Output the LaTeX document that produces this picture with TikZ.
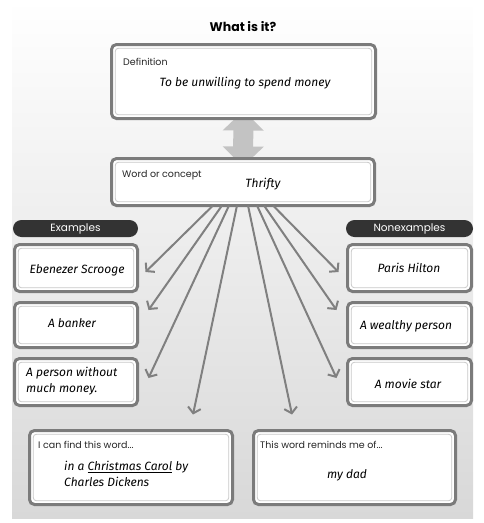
\documentclass[tikz,border=0pt]{standalone}
\usepackage{fontspec}
\setmainfont{Poppins}
\newfontfamily\hand{Fira Sans}
\usetikzlibrary{arrows.meta,calc}
\definecolor{bord}{HTML}{7B7B7B}
\definecolor{inn}{HTML}{C8C8C8}
\definecolor{arr}{HTML}{808080}
\definecolor{dbl}{HTML}{C3C3C3}
\definecolor{pill}{HTML}{333333}
\definecolor{bgbot}{HTML}{D8D8D8}
\pgfdeclarelayer{bg}
\pgfsetlayers{bg,main}
\tikzset{
  box/.style={draw=bord, line width=3pt, fill=white, rounded corners=5pt, outer sep=0pt, inner sep=0pt},
  innerframe/.style={draw=inn, line width=0.8pt, rounded corners=3pt},
  pillbox/.style={fill=pill, rounded corners=8.5pt, text=white, font=\fontsize{10.5}{11}\selectfont, inner sep=0pt, minimum height=17pt},
  lab/.style={anchor=west, font=\fontsize{9.5}{11}\selectfont, inner sep=0pt, text=black!85},
  hw/.style={font=\hand\itshape\fontsize{12}{16}\selectfont, inner sep=0pt, align=left},
  fan/.style={draw=arr, line width=2pt, -{Straight Barb[length=5.5pt,width=13pt]}},
}
\begin{document}
\begin{tikzpicture}[x=1pt,y=-1pt]
\useasboundingbox (0,0) rectangle (483,523);
% boxes
\node[box, minimum width=264, minimum height=74] (def) at (243.5,81.5) {};
\node[box, minimum width=263, minimum height=47] (word) at (243,182) {};
\node[box, minimum width=123, minimum height=47] (ex1) at (76,268) {};
\node[box, minimum width=123, minimum height=45] (ex2) at (76,325) {};
\node[box, minimum width=123, minimum height=47] (ex3) at (76,382) {};
\node[box, minimum width=124, minimum height=47] (ne1) at (409.5,268) {};
\node[box, minimum width=124, minimum height=45] (ne2) at (409.5,325) {};
\node[box, minimum width=124, minimum height=47] (ne3) at (409.5,382) {};
\node[box, minimum width=203, minimum height=74] (fb) at (131,467.5) {};
\node[box, minimum width=202, minimum height=74] (rb) at (354.5,467.5) {};
\foreach \n in {def,word,ex1,ex2,ex3,ne1,ne2,ne3,fb,rb}
  \draw[innerframe] ([shift={(3.8,3.8)}]\n.north west) rectangle ([shift={(-3.8,-3.8)}]\n.south east);
% headers
\node[pillbox, minimum width=125] (exh) at (75.5,228.5) {Examples};
\node[pillbox, minimum width=127] (neh) at (409.5,228.5) {Nonexamples};
\node[font=\bfseries\fontsize{12.5}{14}\selectfont, inner sep=0pt] (title) at (243,27) {What is it?};
% texts
\node[lab] (deflab) at (123,62) {Definition};
\node[hw] (deftxt) at (245,83) {To be unwilling to spend money};
\node[lab] (wordlab) at (122,175) {Word or concept};
\node[hw] (wordtxt) at (263,184) {Thrifty};
\node[hw] (ex1t) at (77,270) {Ebenezer Scrooge};
\node[hw] (ex2t) at (72,323) {A banker};
\node[hw, anchor=west] (ex3t) at (26,381) {A person without\\much money.};
\node[hw] (ne1t) at (409,268) {Paris Hilton};
\node[hw] (ne2t) at (406,326) {A wealthy person};
\node[hw] (ne3t) at (408,384) {A movie star};
\node[lab] (fblab) at (38,445) {I can find this word...};
\node[hw, anchor=west] (fbt) at (64,474) {in a \underline{Christmas Carol} by\\Charles Dickens};
\node[lab] (rblab) at (260,445) {This word reminds me of...};
\node[hw] (rbt) at (347,475) {my dad};
% fan arrows
\draw[fan] ([xshift=-30pt]word.south) -- ([shift={(8,4)}]ex1.east);
\draw[fan] ([xshift=-21pt]word.south) -- ([shift={(11,-15)}]ex2.east);
\draw[fan] ([xshift=-14pt]word.south) -- ([shift={(11,-4)}]ex3.east);
\draw[fan] ([xshift=-6pt]word.south) -- ([shift={(62,-16)}]fb.north);
\draw[fan] ([xshift=5pt]word.south) -- ([shift={(-62.5,-16)}]rb.north);
\draw[fan] ([xshift=14pt]word.south) -- ([shift={(-11,-4)}]ne3.west);
\draw[fan] ([xshift=21pt]word.south) -- ([shift={(-11,-15)}]ne2.west);
\draw[fan] ([xshift=30pt]word.south) -- ([shift={(-9,4)}]ne1.west);
% background layer
\begin{pgfonlayer}{bg}
\fill[top color=white, bottom color=bgbot] (12,0) rectangle (473,518);
\draw[dbl, line width=20pt, {Triangle[width=40pt,length=20pt]}-{Triangle[width=40pt,length=20pt]}]
  ([yshift=8pt]def.south) -- ([yshift=-8pt]word.north);
\end{pgfonlayer}
\end{tikzpicture}
\end{document}
